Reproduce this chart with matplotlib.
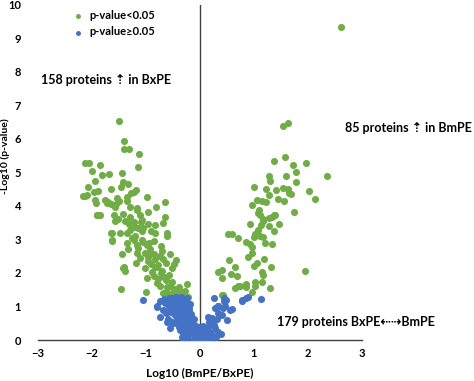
import matplotlib
matplotlib.use("Agg")
import matplotlib.pyplot as plt

plt.rcParams['font.family'] = ['Lato', 'DejaVu Sans']

# significant (p<0.05), left side
sig_left_x = [-1.50, -1.40, -1.41, -1.31, -1.13, -2.12, -2.06, -1.85, -1.15, -1.99,
              -1.81, -1.68, -1.45, -1.94, -1.42, -1.33, -2.08, -1.65, -1.47, -1.19,
              -1.23, -1.96, -2.12, -0.99, -1.35, -1.53, -1.95, -1.93, -1.76, -1.70,
              -1.64, -1.57, -1.50, -1.36, -0.64, -0.81, -1.30, -1.17, -1.73, -1.60,
              -1.55, -1.16, -0.96, -0.65, -1.90, -1.85, -1.60, -1.42, -1.30, -1.11,
              -1.57, -1.39, -1.23, -1.08, -0.96, -0.83, -0.68, -1.20, -1.14, -1.64,
              -1.48, -1.36, -1.30, -1.08, -0.91, -0.83, -0.62, -0.62, -1.62, -1.36,
              -1.23, -1.08, -0.86, -1.17, -0.99, -1.33, -1.14, -0.93, -1.02, -1.16,
              -1.45, -0.86, -0.75, -0.56, -1.11, -0.96, -0.83, -0.68, -0.44, -1.19,
              -0.91, -0.77, -0.63, -0.49, -1.42, -1.39, -1.02, -0.80, -0.71, -0.52,
              -0.88, -0.99, -0.86, -0.77, -0.63, -0.52, -0.75, -0.62, -1.47, -1.00,
              -0.63, -0.49, -0.43, -0.34, -0.28, -0.56, -0.22, -2.09, -2.16, -1.91,
              -1.62, -1.62, -1.41, -0.80, -0.69, -0.59, -0.49, -0.43, -0.31, -0.25,
              -1.26, -1.05, -0.70, -1.52, -1.88, -1.27, -0.94, -0.58, -1.10, -0.73,
              -1.05, -0.90, -0.72, -0.66, -0.55, -0.38, -1.21, -1.32, -0.97, -0.84]
sig_left_y = [6.55, 5.94, 5.70, 5.69, 5.56, 5.27, 5.27, 5.21, 5.17, 5.05,
              4.93, 4.94, 4.97, 4.74, 4.71, 4.66, 4.56, 4.51, 4.56, 4.48,
              4.41, 4.41, 4.31, 4.28, 4.27, 4.23, 4.18, 4.10, 4.18, 4.13,
              4.06, 3.98, 4.16, 4.16, 4.11, 3.96, 3.96, 3.93, 4.08, 4.03,
              4.05, 3.88, 3.83, 3.68, 3.73, 3.73, 3.73, 3.75, 3.68, 3.73,
              3.56, 3.54, 3.51, 3.58, 3.46, 3.43, 3.48, 3.38, 3.33, 3.18,
              3.18, 3.18, 3.27, 3.24, 3.24, 3.18, 3.18, 3.09, 2.96, 2.89,
              2.97, 2.99, 2.94, 2.84, 2.84, 2.72, 2.74, 2.72, 2.61, 2.59,
              2.56, 2.57, 2.51, 2.57, 2.44, 2.47, 2.41, 2.41, 2.39, 2.31,
              2.27, 2.24, 2.31, 2.27, 2.14, 2.07, 2.14, 2.17, 2.07, 2.14,
              2.02, 1.84, 1.91, 1.81, 1.79, 1.74, 1.61, 1.57, 1.51, 1.44,
              1.44, 1.51, 1.44, 1.39, 1.47, 1.34, 1.29, 4.33, 4.30, 3.73,
              3.18, 2.97, 2.17, 1.69, 1.39, 1.39, 1.44, 1.39, 1.44, 1.67,
              3.05, 3.35, 2.65, 3.62, 4.45, 4.40, 2.90, 1.95, 3.52, 2.82,
              2.92, 2.60, 2.00, 1.88, 1.62, 1.58, 3.10, 3.46, 2.35, 2.18]

# significant (p<0.05), right side
sig_right_x = [2.60, 1.53, 1.62, 1.36, 1.57, 1.72, 1.97, 1.77, 2.35, 1.27,
               1.30, 1.60, 1.77, 0.99, 1.22, 1.41, 1.54, 1.62, 1.65, 1.69,
               2.02, 1.28, 1.44, 1.56, 2.13, 1.06, 1.14, 1.22, 0.96, 1.10,
               1.08, 1.73, 1.33, 1.39, 1.17, 1.27, 1.11, 1.37, 1.17, 0.93,
               1.13, 1.27, 1.46, 1.36, 0.52, 0.60, 0.70, 1.02, 1.00, 1.11,
               1.17, 1.08, 0.85, 0.93, 0.96, 1.20, 1.33, 0.97, 0.88, 0.54,
               1.19, 1.00, 1.05, 0.65, 1.31, 0.34, 0.40, 0.57, 0.69, 1.14,
               1.17, 1.95, 0.40, 1.02, 1.14, 0.86, 0.74, 0.64, 1.01, 1.30,
               0.97, 0.40, 0.71, 0.43, 0.86]
sig_right_y = [9.35, 6.40, 6.47, 5.34, 5.46, 5.22, 5.28, 5.02, 4.90, 4.90,
               4.75, 4.90, 4.73, 4.58, 4.52, 4.48, 4.55, 4.51, 4.40, 4.36,
               4.46, 4.33, 4.22, 4.14, 4.21, 4.18, 4.16, 4.13, 4.04, 3.88,
               3.80, 3.82, 3.66, 3.72, 3.60, 3.64, 3.73, 3.73, 3.54, 3.46,
               3.43, 3.41, 3.46, 3.26, 3.15, 3.17, 3.03, 3.16, 3.07, 3.10,
               3.07, 3.28, 2.92, 2.86, 2.79, 2.89, 2.87, 2.61, 2.47, 2.39,
               2.42, 2.22, 2.29, 2.19, 2.19, 2.02, 2.09, 1.96, 1.91, 2.04,
               1.94, 2.07, 1.84, 1.74, 1.74, 1.67, 1.61, 1.56, 1.60, 1.54,
               1.43, 1.34, 1.61, 1.34, 1.59]

# not significant (p>=0.05)
ns_x = [-0.80, -0.74, -0.65, -0.59, -0.68, -0.63, -0.62, -0.52, -0.43, -0.49,
        -0.40, -0.34, -0.46, -0.51, -0.40, -0.31, -0.24, -0.19, -0.28, -0.34,
        -0.25, -0.19, -0.31, -0.22, -0.15, -0.09, -0.06, -0.12, -0.19, -0.25,
        -0.31, -0.31, -0.22, -0.12, -0.03, -0.01, 0.03, 0.06, 0.12, 0.19,
        0.09, 0.15, 0.28, 0.34, 0.22, 0.15, 0.34, 0.40, 0.28, 0.34,
        0.46, 0.56, 0.44, 0.77, 0.86, -0.74, -0.56, -0.37, -0.34, -1.05,
        -0.80, -0.49, -0.36, -0.27, 0.26, 0.44, 0.48, 0.77, 0.88, 1.13,
        0.34, 0.42, 0.60, -0.45, -0.38, -0.29, -0.21, -0.14, -0.08, -0.04,
        0.02, 0.05, 0.08, 0.11, 0.14, 0.18, 0.24, -0.55, -0.47, -0.42,
        -0.36, -0.30, -0.26, -0.20, -0.17, -0.13, -0.10, -0.07, -0.04, -0.02,
        0.01, 0.04, 0.07, 0.10, 0.13, 0.17, -0.66, -0.58, -0.44, -0.39,
        -0.33, -0.27, -0.23, -0.16, -0.11, 0.00, 0.03, 0.21, 0.30, 0.50,
        -0.57, -0.50, -0.45, -0.41, -0.35, -0.30, -0.26, -0.21, -0.48, -0.42,
        -0.37, -0.33, -0.28, -0.24, -0.18, -0.14, -0.09, -0.05, -0.60, -0.53,
        -0.46, -0.39, -0.32, -0.25, 0.06, 0.16, 0.20, 0.25, 0.31, 0.38]
ns_y = [1.00, 1.17, 1.10, 1.17, 0.90, 0.80, 0.55, 0.55, 0.65, 0.80,
        0.90, 1.01, 1.04, 1.24, 1.24, 1.19, 1.24, 1.07, 0.80, 0.65,
        0.55, 0.70, 0.45, 0.40, 0.35, 0.30, 0.20, 0.15, 0.20, 0.15,
        0.15, 0.05, 0.02, 0.02, 0.05, 0.15, 0.15, 0.08, 0.15, 0.00,
        0.25, 0.30, 0.35, 0.25, 0.65, 0.70, 0.80, 0.75, 0.95, 1.01,
        1.00, 0.90, 1.17, 1.17, 1.24, 0.70, 0.35, 0.30, 0.10, 1.19,
        0.98, 0.50, 1.15, 1.10, 1.26, 1.24, 1.18, 1.18, 1.27, 1.23,
        1.00, 0.97, 0.94, 1.20, 1.12, 0.95, 0.88, 0.60, 0.42, 0.30,
        0.28, 0.22, 0.38, 0.05, 0.10, 0.45, 0.55, 1.05, 0.95, 0.72,
        0.85, 0.62, 0.50, 0.40, 0.55, 0.48, 0.25, 0.12, 0.38, 0.10,
        0.32, 0.05, 0.20, 0.30, 0.12, 0.20, 1.22, 0.98, 1.28, 0.40,
        1.14, 0.30, 0.85, 0.78, 0.62, 0.22, 0.40, 0.15, 0.08, 0.60,
        1.25, 1.20, 1.08, 1.16, 1.28, 1.13, 1.22, 0.96, 0.88, 1.00,
        0.92, 0.70, 0.68, 0.58, 0.70, 0.45, 0.28, 0.18, 0.62, 0.85,
        0.75, 0.55, 0.95, 0.35, 0.42, 0.55, 0.20, 0.45, 0.62, 0.18]

green = '#70AD47'
blue = '#4472C4'

fig = plt.figure(figsize=(4.74, 3.81), dpi=100)
ax = fig.add_axes([0.080, 0.1076, 0.684, 0.8794])

ax.scatter(sig_left_x + sig_right_x, sig_left_y + sig_right_y, s=26, c=green,
           linewidths=0, label='p-value<0.05', zorder=3)
ax.scatter(ns_x, ns_y, s=26, c=blue, linewidths=0, label='p-value\u22650.05', zorder=3)

ax.set_xlim(-3, 3)
ax.set_ylim(0, 10)
ax.axvline(0, color='#404040', lw=1.0, zorder=2)
for s in ['top', 'right', 'left']:
    ax.spines[s].set_visible(False)
ax.spines['bottom'].set_color('#404040')
ax.spines['bottom'].set_linewidth(1.0)

ax.set_xticks(range(-3, 4))
ax.set_yticks(range(0, 11))
ax.tick_params(axis='y', length=0, pad=12, labelsize=8)
ax.tick_params(axis='x', length=0, pad=6, labelsize=8)
for lbl in ax.get_xticklabels() + ax.get_yticklabels():
    lbl.set_fontweight('bold')

ax.set_xlabel('Log10 (BmPE/BxPE)', fontsize=8.5, fontweight='bold', labelpad=6)
ax.set_ylabel('-Log10 (p-value)', fontsize=7.5, fontweight='bold', va='center')
ax.yaxis.set_label_coords(-0.100, 0.55)

ax.text(-2.95, 7.75, '158 proteins \u21e1 in BxPE', fontsize=9, fontweight='bold',
        va='center', family=['Lato', 'DejaVu Sans'])
ax.text(2.68, 6.33, '85 proteins \u21e1 in BmPE', fontsize=9, fontweight='bold',
        va='center', clip_on=False, family=['Lato', 'DejaVu Sans'])
ax.text(1.42, 0.54, '179 proteins BxPE\u21e0\u21e2BmPE', fontsize=9, fontweight='bold',
        va='center', clip_on=False, family=['Lato', 'DejaVu Sans'])

leg = ax.legend(loc='upper left', bbox_to_anchor=(0.06, 1.015), frameon=False,
                prop={'size': 8, 'weight': 'bold'}, handletextpad=0.0,
                markerscale=0.7, labelspacing=0.5)

fig.savefig('out.png', dpi=100)
